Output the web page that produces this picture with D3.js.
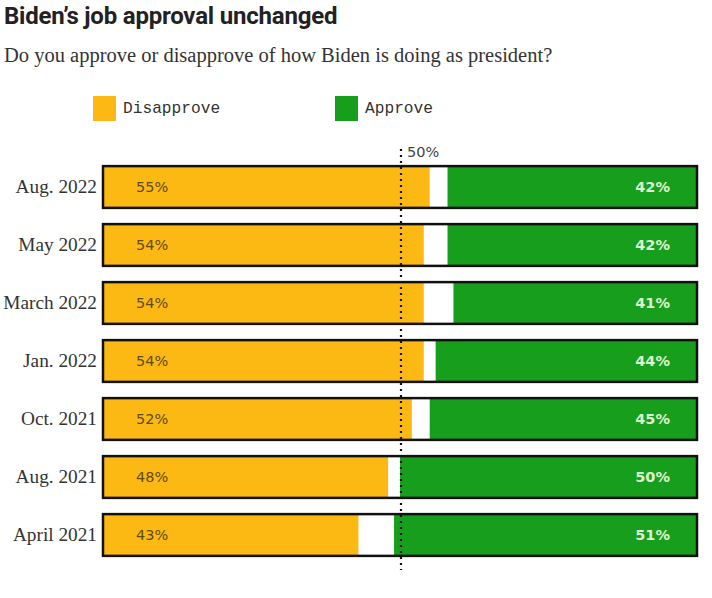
<!DOCTYPE html>
<html>
<head>
<meta charset="utf-8">
<script src="https://cdn.jsdelivr.net/npm/d3@7"></script>
<style>
  body { margin: 0; background: #fff; }
</style>
</head>
<body>
<script>
// data
var categories = ["Aug. 2022", "May 2022", "March 2022", "Jan. 2022", "Oct. 2021", "Aug. 2021", "April 2021"];
var disapprove = [55, 54, 54, 54, 52, 48, 43];
var approve = [42, 42, 41, 44, 45, 50, 51];
var legendLabels = ["Disapprove", "Approve"];

var width = 712, height = 598;
var svg = d3.select('body').append('svg')
    .attr('width', width)
    .attr('height', height);

var x = d3.scaleLinear().domain([0, 100]).range([103, 697]);
var y = d3.scaleBand().domain(categories).range([158, 564]).paddingInner(0.28).paddingOuter(0.14);

// title + subtitle
svg.append('text')
    .attr('x', 4).attr('y', 24)
    .style('font-family', 'Roboto, sans-serif')
    .style('font-weight', 'bold')
    .style('font-size', '24px')
    .style('letter-spacing', '-0.2px')
    .style('fill', '#222')
    .text('Biden\u2019s job approval unchanged');
svg.append('text')
    .attr('x', 4).attr('y', 62)
    .style('font-family', '"Liberation Serif", serif')
    .style('font-size', '20.5px')
    .style('fill', '#333')
    .text('Do you approve or disapprove of how Biden is doing as president?');

// legend
var legendColors = ['#fdb913', '#189e1d'];
var legendX = [93, 335];
legendLabels.forEach(function (lab, i) {
    svg.append('rect')
        .attr('x', legendX[i]).attr('y', 96)
        .attr('width', 23).attr('height', 25)
        .style('fill', legendColors[i]);
    svg.append('text')
        .attr('x', legendX[i] + 30).attr('y', 113)
        .style('font-family', '"Liberation Mono", monospace')
        .style('font-size', '16.2px')
        .style('fill', '#333')
        .text(lab);
});

// bars
var rows = svg.selectAll('g.row').data(categories).enter().append('g')
    .attr('class', 'row');

rows.append('rect')
    .attr('x', x(0)).attr('y', function (d) { return y(d); })
    .attr('width', x(100) - x(0)).attr('height', y.bandwidth())
    .style('fill', '#fff');

rows.append('rect')
    .attr('x', x(0)).attr('y', function (d) { return y(d); })
    .attr('width', function (d, i) { return x(disapprove[i]) - x(0); })
    .attr('height', y.bandwidth())
    .style('fill', legendColors[0]);

rows.append('rect')
    .attr('x', function (d, i) { return x(100 - approve[i]); })
    .attr('y', function (d) { return y(d); })
    .attr('width', function (d, i) { return x(100) - x(100 - approve[i]); })
    .attr('height', y.bandwidth())
    .style('fill', legendColors[1]);

rows.append('rect')
    .attr('x', x(0)).attr('y', function (d) { return y(d); })
    .attr('width', x(100) - x(0)).attr('height', y.bandwidth())
    .style('fill', 'none')
    .style('stroke', '#111')
    .style('stroke-width', 2.5);

rows.append('text')
    .attr('x', x(0) + 33)
    .attr('y', function (d) { return y(d) + y.bandwidth() / 2 + 5; })
    .style('font-family', '"DejaVu Sans", sans-serif')
    .style('font-size', '14.5px')
    .style('fill', '#5e4b10')
    .text(function (d, i) { return disapprove[i] + '%'; });

rows.append('text')
    .attr('x', x(100) - 27)
    .attr('y', function (d) { return y(d) + y.bandwidth() / 2 + 5; })
    .attr('text-anchor', 'end')
    .style('font-family', '"DejaVu Sans", sans-serif')
    .style('font-weight', 'bold')
    .style('font-size', '14.5px')
    .style('fill', '#dcf2cf')
    .text(function (d, i) { return approve[i] + '%'; });

// category labels
rows.append('text')
    .attr('x', 97)
    .attr('y', function (d) { return y(d) + y.bandwidth() / 2 + 6; })
    .attr('text-anchor', 'end')
    .style('font-family', '"Liberation Serif", serif')
    .style('font-size', '19.3px')
    .style('fill', '#333')
    .text(function (d) { return d; });

// 50% reference line
svg.append('line')
    .attr('x1', x(50) + 1).attr('x2', x(50) + 1)
    .attr('y1', 149).attr('y2', 570)
    .style('stroke', '#111')
    .style('stroke-width', 2.2)
    .style('stroke-dasharray', '2,4');
svg.append('text')
    .attr('x', x(50) + 7).attr('y', 157)
    .style('font-family', '"DejaVu Sans", sans-serif')
    .style('font-size', '14.5px')
    .style('fill', '#444')
    .text('50%');
</script>
</body>
</html>
